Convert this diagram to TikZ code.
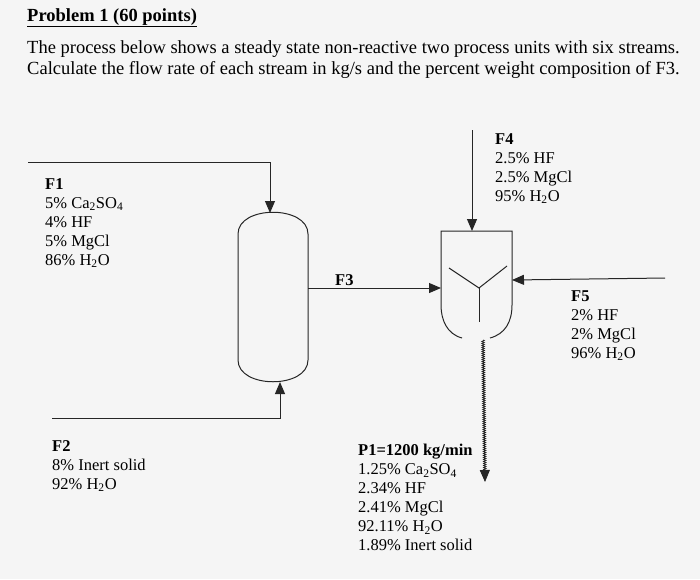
\documentclass[tikz,border=0pt]{standalone}
\usepackage{fontspec}
\setmainfont{Liberation Serif}
\usetikzlibrary{arrows.meta,decorations.pathmorphing}
\newcommand{\sub}[1]{\textsubscript{#1}}
\begin{document}
\begin{tikzpicture}[x=1pt,y=-1pt,
  txt/.style={anchor=north west,align=left,inner sep=0pt,font=\fontsize{16.5}{19}\selectfont},
  ttl/.style={anchor=north west,align=left,inner sep=0pt,font=\fontsize{18.5}{21}\selectfont},
  ln/.style={line width=1pt,draw=black!85},
  tip/.tip={Triangle[length=12pt,width=10pt]},
  arr/.style={ln,-tip}]
\fill[gray!8] (0,0) rectangle (700,579);
\useasboundingbox (0,0) rectangle (700,579);
\node[ttl] (title) at (27,8) {\textbf{\underline{Problem 1 (60 points)}}};
\node[ttl] (desc) at (27,40) {The process below shows a steady state non-reactive two process units with six streams.\\Calculate the flow rate of each stream in kg/s and the percent weight composition of F3.};
% column
\draw[ln] (238,234) .. controls (238,205) and (308,205) .. (308,234) -- (308,360) .. controls (308,389) and (238,389) .. (238,360) -- cycle;
\coordinate (ctop) at (270,213);
\coordinate (cbot) at (280,382);
\coordinate (cout) at (308,288);
% mixer
\draw[ln] (462,338) .. controls (447,334) and (441,320) .. (441,305) -- (441,231) -- (512,231) -- (512,305) .. controls (512,322) and (505,334) .. (490,338);
\draw[ln] (449,268) -- (479,288) -- (507,266);
\draw[ln] (479,288) -- (479,322);
\coordinate (mtop) at (472,231);
\coordinate (mleft) at (441,288);
\coordinate (mright) at (512,280);
\coordinate (mbot) at (483,340);
\coordinate (pend) at (485,482);
% streams
\coordinate (f1s) at (28,162);
\coordinate (f2s) at (52,418);
\coordinate (f4s) at (472,130);
\coordinate (f5s) at (665,278);
\draw[arr] (f1s) -| (ctop);
\draw[arr] (f2s) -| (cbot);
\draw[arr] (cout) -- (mleft);
\draw[arr] (f4s) -- (mtop);
\draw[arr] (f5s) -- (mright);
\draw[ln,line width=0.8pt,decorate,decoration={zigzag,amplitude=1.2pt,segment length=2pt,post length=10pt},-tip] (mbot) -- (pend);
% labels
\node[txt] (l1) at (45,178) {\textbf{F1}\\5\% Ca\sub{2}SO\sub{4}\\4\% HF\\5\% MgCl\\86\% H\sub{2}O};
\node[txt] (l2) at (52,440) {\textbf{F2}\\8\% Inert solid\\92\% H\sub{2}O};
\node[txt] (l3) at (335,274) {\textbf{F3}};
\node[txt] (l4) at (495,133) {\textbf{F4}\\2.5\% HF\\2.5\% MgCl\\95\% H\sub{2}O};
\node[txt] (l5) at (571,290) {\textbf{F5}\\2\% HF\\2\% MgCl\\96\% H\sub{2}O};
\node[txt] (lp) at (358,444) {\textbf{P1=1200 kg/min}\\1.25\% Ca\sub{2}SO\sub{4}\\2.34\% HF\\2.41\% MgCl\\92.11\% H\sub{2}O\\1.89\% Inert solid};
\end{tikzpicture}
\end{document}
